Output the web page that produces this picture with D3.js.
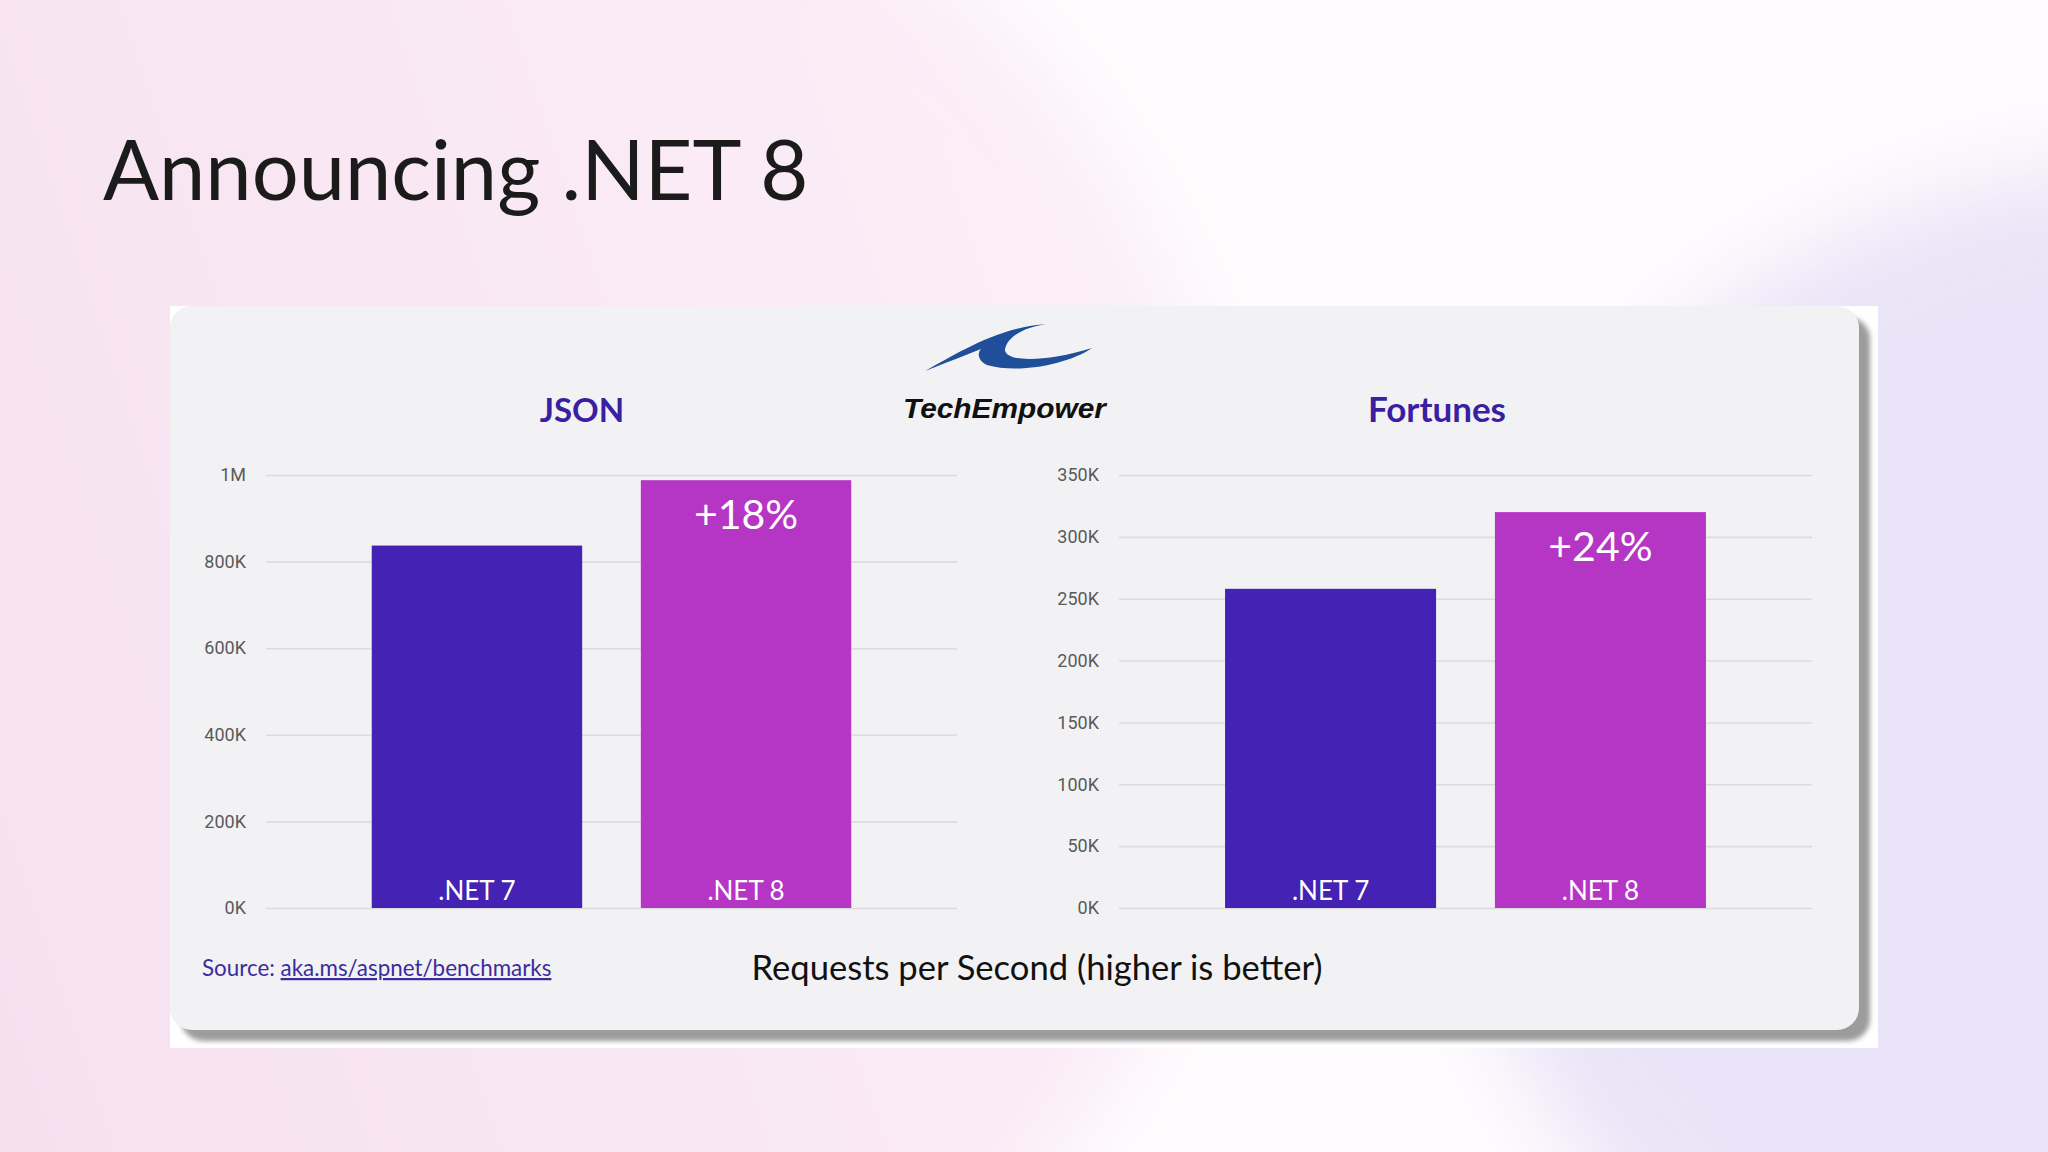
<!DOCTYPE html>
<html>
<head>
<meta charset="utf-8">
<script src="https://cdn.jsdelivr.net/npm/d3@7"></script>
<style>
  html, body { margin: 0; padding: 0; background: #fff; overflow: hidden; }
  svg { display: block; }
</style>
</head>
<body>
<svg id="chart" width="2048" height="1152"></svg>
<script>
// data
const versions = [".NET 7", ".NET 8"];
const jsonRps = [837000, 988000];
const fortunesRps = [258000, 320000];
const gains = ["", "+18%"];
const gainsFortunes = ["", "+24%"];
const jsonTicks = [0, 200000, 400000, 600000, 800000, 1000000];
const jsonTickLabels = ["0K", "200K", "400K", "600K", "800K", "1M"];
const fortunesTicks = [0, 50000, 100000, 150000, 200000, 250000, 300000, 350000];
const fortunesTickLabels = ["0K", "50K", "100K", "150K", "200K", "250K", "300K", "350K"];

const barColors = ["#4422b4", "#b535c5"];  // .NET 7 indigo, .NET 8 magenta
const font = "Lato, 'Open Sans', sans-serif";

const svg = d3.select("#chart");
const defs = svg.append("defs");

// ---- background blobs
defs.append("filter").attr("id", "blur").attr("x", "-50%").attr("y", "-50%")
  .attr("width", "200%").attr("height", "200%")
  .append("feGaussianBlur").attr("stdDeviation", 45);
defs.append("filter").attr("id", "shadow").attr("x", "-10%").attr("y", "-10%")
  .attr("width", "120%").attr("height", "120%")
  .append("feGaussianBlur").attr("stdDeviation", 2.5);

const pinkGrad = defs.append("linearGradient").attr("id", "pink")
  .attr("x1", 0).attr("x2", 1).attr("y1", 0.3).attr("y2", 0);
pinkGrad.append("stop").attr("offset", 0).attr("stop-color", "#f5dbee");
pinkGrad.append("stop").attr("offset", 1).attr("stop-color", "#fcf2f9");

svg.append("rect").attr("width", 2048).attr("height", 1152).attr("fill", "#fefcfe");
svg.append("ellipse")
  .attr("cx", 230).attr("cy", 620).attr("rx", 1020).attr("ry", 920)
  .attr("fill", "url(#pink)").attr("filter", "url(#blur)");
svg.append("ellipse")
  .attr("cx", 2180).attr("cy", 800).attr("rx", 720).attr("ry", 640)
  .attr("fill", "#e9e4f7").attr("filter", "url(#blur)");

// ---- slide title
svg.append("text")
  .attr("x", 103).attr("y", 200)
  .attr("font-family", font).attr("font-size", 83)
  .attr("fill", "#1b1b1b")
  .text("Announcing .NET 8");

// ---- card
const card = { x: 170, y: 306, w: 1689, h: 724 };
svg.append("rect")
  .attr("x", card.x).attr("y", card.y).attr("width", 1708).attr("height", 742)
  .attr("fill", "#ffffff");
svg.append("rect")
  .attr("x", card.x + 11).attr("y", card.y + 11).attr("width", card.w).attr("height", card.h)
  .attr("rx", 22).attr("fill", "#9c9c9c").attr("filter", "url(#shadow)");
svg.append("rect")
  .attr("x", card.x).attr("y", card.y).attr("width", card.w).attr("height", card.h)
  .attr("rx", 22).attr("fill", "#f2f2f4");

// ---- TechEmpower logo
const logo = svg.append("g").attr("transform", "translate(925,322)");
logo.append("path")
  .attr("fill", "#1f4e9b")
  .attr("d", "M0,49 C30,33 72,5 122,2 C100,5 83,14 80,27 C79,41 122,40 167,26 " +
             "C142,43 92,52 62,43 C53,39 52,31 56,27 C36,35 15,43 0,49 Z");
logo.append("text")
  .attr("x", -22).attr("y", 96)
  .attr("textLength", 203).attr("lengthAdjust", "spacingAndGlyphs")
  .attr("font-family", "'Liberation Sans', Arial, sans-serif")
  .attr("font-weight", 700).attr("font-style", "italic").attr("font-size", 27)
  .attr("fill", "#111")
  .text("TechEmpower");

// ---- one bar panel
function drawPanel(opts) {
  const g = svg.append("g");

  const x = d3.scaleBand()
    .domain(versions)
    .range(opts.xRange)
    .paddingInner(0.218)
    .paddingOuter(0.393);

  const y = d3.scaleLinear()
    .domain([0, opts.max])
    .range([908, 475]);

  // grid + tick labels
  const axis = d3.axisLeft(y)
    .tickValues(opts.ticks)
    .tickFormat((d, i) => opts.tickLabels[i])
    .tickSize(-(opts.xRange[1] - opts.xRange[0]))
    .tickPadding(20);

  const ax = g.append("g")
    .attr("transform", `translate(${opts.xRange[0]},0)`)
    .call(axis);
  ax.select(".domain").remove();
  ax.selectAll(".tick line").attr("stroke", "#dcdcde").attr("stroke-width", 1.6);
  ax.selectAll(".tick text")
    .attr("font-family", "Roboto, sans-serif").attr("font-size", 18)
    .attr("fill", "#5a5a5a");

  // title
  g.append("text")
    .attr("x", opts.titleX).attr("y", 422)
    .attr("text-anchor", "middle")
    .attr("font-family", font).attr("font-weight", 700).attr("font-size", opts.titleSize)
    .attr("fill", "#3a1fa3")
    .text(opts.title);

  // bars
  g.selectAll("rect.bar")
    .data(opts.values)
    .join("rect")
    .attr("class", "bar")
    .attr("x", (d, i) => x(versions[i]))
    .attr("y", d => y(d))
    .attr("width", x.bandwidth())
    .attr("height", d => y(0) - y(d))
    .attr("fill", (d, i) => barColors[i]);

  // version labels at bar foot
  g.selectAll("text.ver")
    .data(versions)
    .join("text")
    .attr("class", "ver")
    .attr("x", d => x(d) + x.bandwidth() / 2)
    .attr("y", y(0) - 8)
    .attr("text-anchor", "middle")
    .attr("font-family", font).attr("font-size", 26)
    .attr("fill", "#fff")
    .text(d => d);

  // gain labels near bar top
  g.selectAll("text.gain")
    .data(opts.values)
    .join("text")
    .attr("class", "gain")
    .attr("x", (d, i) => x(versions[i]) + x.bandwidth() / 2)
    .attr("y", d => y(d) + 49)
    .attr("text-anchor", "middle")
    .attr("font-family", font).attr("font-weight", 400).attr("font-size", 41)
    .attr("fill", "#fff")
    .text((d, i) => opts.gains[i]);
}

drawPanel({
  title: "JSON", titleX: 582, titleSize: 33,
  values: jsonRps, gains: gains, max: 1000000,
  ticks: jsonTicks, tickLabels: jsonTickLabels,
  xRange: [266, 957]
});

drawPanel({
  title: "Fortunes", titleX: 1437, titleSize: 35,
  values: fortunesRps, gains: gainsFortunes, max: 350000,
  ticks: fortunesTicks, tickLabels: fortunesTickLabels,
  xRange: [1119, 1812]
});

// ---- footer
const src = svg.append("text")
  .attr("x", 202).attr("y", 976)
  .attr("font-family", font).attr("font-size", 22.4)
  .attr("fill", "#3b2c9e");
src.append("tspan").text("Source: ");
src.append("tspan").attr("text-decoration", "underline").text("aka.ms/aspnet/benchmarks");

svg.append("text")
  .attr("x", 1037).attr("y", 980)
  .attr("text-anchor", "middle")
  .attr("font-family", font).attr("font-size", 34.6)
  .attr("fill", "#111")
  .text("Requests per Second (higher is better)");
</script>
</body>
</html>
